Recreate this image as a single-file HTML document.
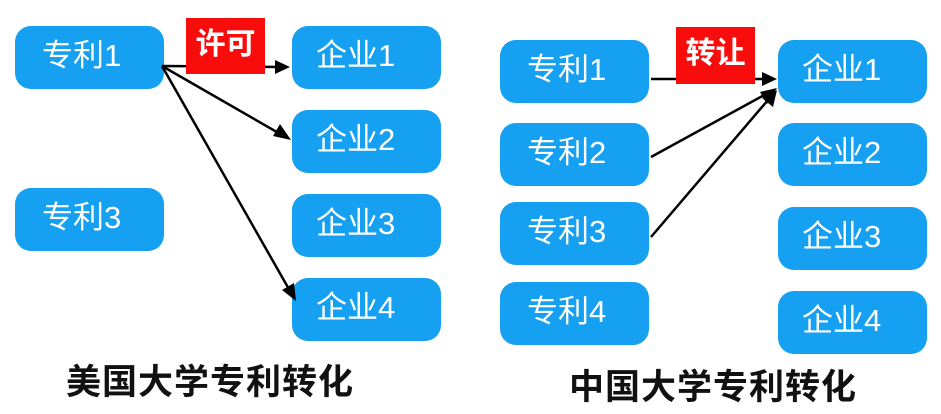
<!DOCTYPE html>
<html><head><meta charset="utf-8"><style>
body{margin:0;width:941px;height:414px;background:#fff;overflow:hidden;position:relative;font-family:"Liberation Sans","Noto Sans CJK SC",sans-serif}
.b{position:absolute;width:149px;height:63px;background:#16a0f2;border-radius:16px;color:#fff;font-size:31px;line-height:60px;box-sizing:border-box;padding-left:27px}
.r{position:absolute;background:#f80c0c;color:#fff;font-size:30px;font-weight:bold;text-align:center;box-sizing:border-box}
.c{position:absolute;font-size:35px;color:#111;font-weight:bold;letter-spacing:1px;white-space:nowrap}
svg{position:absolute;left:0;top:0}
</style></head><body>
<div class="b" style="left:15px;top:26px">专利1</div>
<div class="b" style="left:15px;top:188px">专利3</div>
<div class="b" style="left:292px;top:26px;padding-left:24px">企业1</div>
<div class="b" style="left:292px;top:110px;padding-left:24px">企业2</div>
<div class="b" style="left:292px;top:194px;padding-left:24px">企业3</div>
<div class="b" style="left:292px;top:278px;padding-left:24px">企业4</div>
<div class="b" style="left:500px;top:40px">专利1</div>
<div class="b" style="left:500px;top:123px">专利2</div>
<div class="b" style="left:500px;top:202px">专利3</div>
<div class="b" style="left:500px;top:282px">专利4</div>
<div class="b" style="left:778px;top:40px;padding-left:24px">企业1</div>
<div class="b" style="left:778px;top:123px;padding-left:24px">企业2</div>
<div class="b" style="left:778px;top:207px;padding-left:24px">企业3</div>
<div class="b" style="left:778px;top:291px;padding-left:24px">企业4</div>
<svg width="941" height="414">
<g stroke="#000" stroke-width="2.5" fill="none">
<line x1="162" y1="66" x2="280" y2="67"/>
<line x1="162" y1="66" x2="282" y2="135"/>
<line x1="162" y1="66" x2="290" y2="291"/>
<line x1="651" y1="79" x2="766" y2="79"/>
<line x1="651" y1="157" x2="766" y2="94"/>
<line x1="651" y1="237" x2="768" y2="100"/>
</g>
<g fill="#000">
<polygon points="290,67 275,60 275,74"/>
<polygon points="291,140 273,136 280,124" />
<polygon points="296,301 282,290 294,283"/>
<polygon points="777,79 762,72 762,86"/>
<polygon points="777,88 760,92 767,104"/>
<polygon points="777,90 762,98 773,107"/>
</g></svg>
<div class="r" style="left:186px;top:18px;width:79px;height:56px;line-height:54px">许可</div>
<div class="r" style="left:676px;top:27px;width:79px;height:57px;line-height:54px">转让</div>
<div class="c" style="left:66px;top:354px">美国大学专利转化</div>
<div class="c" style="left:569px;top:359px">中国大学专利转化</div>
</body></html>
